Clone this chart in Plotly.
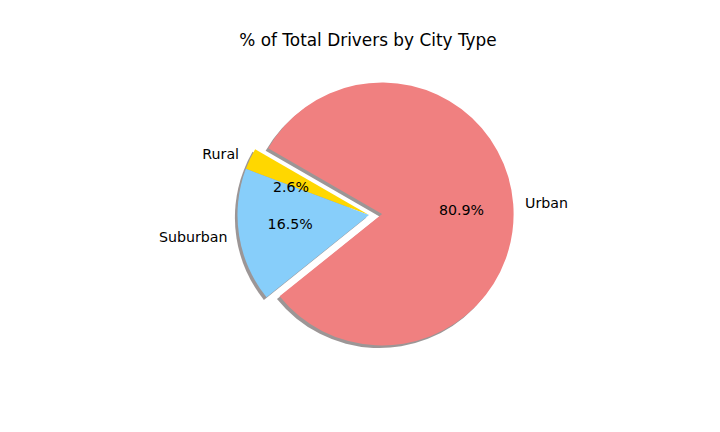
import plotly.graph_objects as go

# Drivers per city type
city_types = ["Rural", "Suburban", "Urban"]
driver_counts = [78, 490, 2405]
colors = ["gold", "lightskyblue", "lightcoral"]
explode = [0, 0, 1]

W, H = 720, 432
OFF = 8            # page body margin
cx, cy = 369 - OFF, 215 - OFF  # pie centre in px (from top of figure)
R = 131.5          # pie radius in px

# matplotlib-style startangle 150 deg -> plotly rotation (first slice edge)
start_angle = 150
rotation = (90 - start_angle) - 360 * driver_counts[0] / sum(driver_counts)


def domain(radius, pull, dx=0.0, dy=0.0):
    half = radius * (1 + pull)
    x0, x1 = (cx + dx - half) / W, (cx + dx + half) / W
    y0, y1 = 1 - (cy + dy + half) / H, 1 - (cy + dy - half) / H
    return dict(x=[x0, x1], y=[y0, y1])


font = dict(family="DejaVu Sans", size=14.2, color="black")
clear = dict(colors=["rgba(0,0,0,0)"] * 3, line=dict(width=0))
common = dict(labels=city_types, values=driver_counts, sort=False,
              direction="counterclockwise", rotation=rotation,
              showlegend=False, hoverinfo="skip")

fig = go.Figure()

# shadow
fig.add_trace(go.Pie(
    **common,
    domain=domain(R, 0.1, dx=-2.6, dy=2.6),
    pull=[0.1 * e for e in explode],
    marker=dict(colors=["rgba(90,80,80,0.6)"] * 3, line=dict(width=0)),
    textinfo="none",
))

# wedges
fig.add_trace(go.Pie(
    **common,
    domain=domain(R, 0.1),
    pull=[0.1 * e for e in explode],
    marker=dict(colors=colors, line=dict(width=0)),
    textinfo="none",
))

# city labels at ~1.1 r
lab_r = R * 1.1 - 6
fig.add_trace(go.Pie(
    **common,
    domain=domain(lab_r, 0.1),
    pull=[R * 0.1 / lab_r * e for e in explode],
    marker=clear,
    texttemplate="%{label}",
    textposition="outside",
    outsidetextfont=font,
))

# percentages at ~0.6 r (small Rural slice on its own ring)
pct_fmt = "%{percent:.1%}"
for pct_r, shown in [(53, [False, True, True]), (62, [True, False, False])]:
    pct_pull = R * 0.1 / pct_r
    fig.add_trace(go.Pie(
        **common,
        domain=domain(pct_r, pct_pull),
        pull=[pct_pull * e for e in explode],
        marker=clear,
        texttemplate=[pct_fmt if s else "" for s in shown],
        textposition="outside",
        outsidetextfont=font,
    ))

fig.update_layout(
    width=W, height=H,
    margin=dict(l=0, r=0, t=0, b=0),
    paper_bgcolor="white",
    plot_bgcolor="white",
    title=dict(text="% of Total Drivers by City Type",
               x=(368 - OFF) / W, y=1 - (40 - OFF) / H,
               xanchor="center", yanchor="middle",
               font=dict(family="DejaVu Sans", size=16.9, color="black")),
)

fig.write_html("out.html")
